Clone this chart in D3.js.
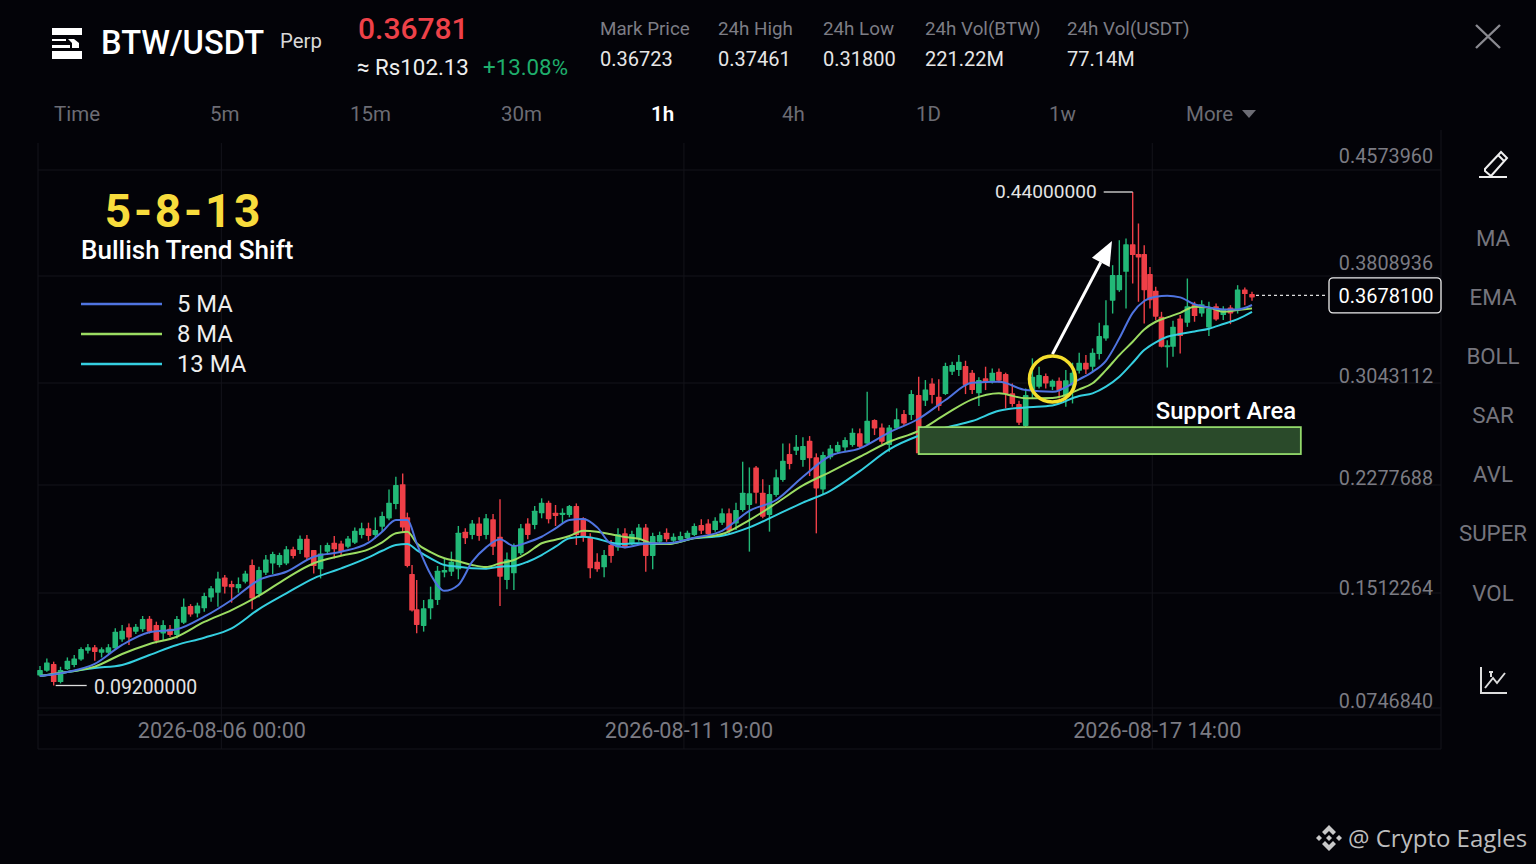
<!DOCTYPE html>
<html>
<head>
<meta charset="utf-8">
<title>BTW/USDT</title>
<script src="https://cdn.jsdelivr.net/npm/d3@7"></script>
<style>
  html, body { margin: 0; padding: 0; background: #030308; overflow: hidden; }
  svg { display: block; }
  text { font-family: Roboto, "Noto Sans", sans-serif; }
</style>
</head>
<body>
<div id="chart"></div>
<script>
var opens = [
  .0991,.1024,.1071,.0944,.1034,.1064,.1104,.1165,.1189,.1151,
  .1151,.1182,.1245,.1330,.1299,.1316,.1391,.1346,.1287,.1320,
  .1276,.1363,.1480,.1428,.1464,.1541,.1574,.1682,.1635,.1605,
  .1652,.1769,.1565,.1715,.1781,.1769,.1781,.1880,.1875,.1955,
  .1875,.1739,.1863,.1927,.1922,.1898,.1927,.1981,.2028,.1981,
  .2039,.2098,.2199,.2340,.2106,.1706,.1457,.1340,.1464,.1523,
  .1716,.1723,.1739,.2005,.1981,.2063,.1981,.2092,.1969,.1664,
  .1711,.1852,.2063,.2052,.2134,.2209,.2139,.2122,.2122,.2186,
  .2099,.1969,.1793,.1753,.1911,.1894,.1993,.1918,.1951,.2035,
  .1833,.1934,.1998,.1941,.1946,.1958,.1981,.2052,.2063,.2016,
  .2068,.2134,.2063,.2157,.2193,.2458,.2280,.2122,.2263,.2369,
  .2552,.2576,.2510,.2646,.2529,.2303,.2529,.2569,.2599,.2616,
  .2698,.2627,.2792,.2740,.2616,.2733,.2834,.2827,.2968,.2928,
  .3050,.2956,.2975,.3133,.3144,.3173,.3126,.2980,.3086,.3062,
  .3133,.3116,.2980,.2905,.2750,.3003,.3026,.3102,.3026,.3069,
  .2956,.3038,.3139,.3196,.3167,.3257,.3367,.3633,.3708,.3837,
  .4032,.3962,.3962,.3821,.3703,.3520,.3308,.3308,.3508,.3478,
  .3609,.3543,.3445,.3595,.3532,.3586,.3567,.3713,.3680];
var highs = [
  .1057,.1111,.1088,.1052,.1118,.1135,.1189,.1212,.1205,.1189,
  .1212,.1323,.1346,.1358,.1353,.1410,.1410,.1370,.1381,.1346,
  .1410,.1534,.1494,.1504,.1574,.1621,.1722,.1699,.1659,.1682,
  .1729,.1809,.1757,.1840,.1863,.1856,.1903,.1898,.1978,.1981,
  .1875,.1910,.1927,.1974,.1941,.1974,.2035,.2068,.2068,.2105,
  .2145,.2303,.2392,.2415,.2139,.1770,.1664,.1523,.1617,.1763,
  .1817,.1864,.2045,.2028,.2087,.2106,.2129,.2129,.2233,.1857,
  .1922,.2059,.2099,.2186,.2240,.2223,.2193,.2169,.2193,.2204,
  .2106,.1993,.1852,.1875,.1946,.2028,.2028,.2012,.2059,.2059,
  .1998,.2005,.2028,.1993,.2005,.2012,.2063,.2092,.2092,.2106,
  .2169,.2169,.2209,.2498,.2458,.2468,.2374,.2334,.2444,.2627,
  .2627,.2686,.2670,.2679,.2557,.2569,.2616,.2639,.2670,.2733,
  .2733,.2992,.2797,.2768,.2757,.2874,.2862,.3003,.3098,.3074,
  .3086,.3079,.3196,.3203,.3250,.3210,.3144,.3093,.3168,.3156,
  .3156,.3126,.3050,.2928,.3015,.3227,.3167,.3120,.3078,.3092,
  .3144,.3196,.3266,.3250,.3297,.3478,.3637,.3884,.4060,.4072,
  .4400,.4178,.4025,.3872,.3731,.3555,.3355,.3492,.3532,.3790,
  .3626,.3637,.3626,.3614,.3595,.3602,.3743,.3727,.3696];
var lows = [
  .0982,.1017,.0920,.0935,.1029,.1048,.1095,.1146,.1095,.1118,
  .1142,.1175,.1229,.1205,.1283,.1299,.1287,.1217,.1240,.1264,
  .1252,.1353,.1405,.1400,.1440,.1511,.1475,.1569,.1504,.1574,
  .1640,.1457,.1541,.1699,.1706,.1753,.1769,.1816,.1847,.1804,
  .1710,.1675,.1840,.1816,.1840,.1887,.1917,.1957,.1941,.1957,
  .2004,.2086,.2162,.2004,.1753,.1441,.1288,.1300,.1387,.1488,
  .1683,.1692,.1669,.1918,.1951,.1941,.1951,.1840,.1481,.1598,
  .1593,.1840,.1951,.2021,.2099,.2063,.2045,.2063,.2106,.1911,
  .1934,.1676,.1723,.1683,.1786,.1871,.1887,.1911,.1934,.1723,
  .1739,.1922,.1934,.1922,.1934,.1951,.1974,.1988,.1965,.2005,
  .2052,.1981,.2016,.2146,.1864,.2204,.2099,.2005,.2251,.2357,
  .2444,.2545,.2463,.2397,.1993,.2270,.2515,.2552,.2569,.2604,
  .2592,.2623,.2686,.2623,.2569,.2726,.2750,.2792,.2557,.2891,
  .2909,.2858,.2968,.3109,.3102,.2975,.2975,.2891,.3003,.3050,
  .3055,.2874,.2886,.2757,.2717,.2945,.3015,.3015,.3003,.2944,
  .2885,.2909,.3120,.3116,.3132,.3219,.3351,.3543,.3696,.3579,
  .3755,.3626,.3473,.3579,.3496,.3304,.3163,.3238,.3261,.3449,
  .3485,.3520,.3384,.3492,.3497,.3468,.3543,.3602,.3633];
var closes = [
  .1029,.1083,.0944,.1029,.1095,.1111,.1177,.1189,.1156,.1175,
  .1189,.1299,.1306,.1259,.1334,.1389,.1299,.1236,.1346,.1276,
  .1389,.1475,.1421,.1485,.1551,.1605,.1675,.1616,.1612,.1635,
  .1710,.1534,.1734,.1809,.1847,.1840,.1880,.1833,.1955,.1823,
  .1762,.1851,.1910,.1880,.1863,.1957,.2011,.2028,.1974,.2016,
  .2115,.2209,.2333,.2035,.1763,.1448,.1347,.1464,.1528,.1730,
  .1734,.1793,.1998,.1958,.2063,.1974,.2099,.1899,.1687,.1810,
  .1904,.2028,.1981,.2153,.2209,.2092,.2115,.2139,.2186,.1981,
  .1969,.1746,.1739,.1840,.1833,.1988,.1894,.1988,.2035,.1833,
  .1974,.1981,.1951,.1969,.1974,.1998,.2045,.2012,.1988,.2082,
  .2134,.2012,.2157,.2280,.2275,.2280,.2110,.2270,.2388,.2505,
  .2482,.2604,.2609,.2522,.2310,.2545,.2592,.2616,.2651,.2703,
  .2604,.2787,.2733,.2639,.2740,.2797,.2768,.2975,.2557,.3008,
  .2968,.2891,.3173,.3180,.3203,.3039,.3003,.3074,.3055,.3126,
  .3069,.2975,.2905,.2773,.2968,.3097,.3109,.3050,.3069,.3003,
  .3073,.3125,.3196,.3149,.3266,.3384,.3461,.3814,.3814,.4032,
  .3955,.3938,.3708,.3637,.3520,.3308,.3320,.3449,.3384,.3595,
  .3525,.3609,.3579,.3501,.3572,.3543,.3713,.3680,.3656];

// bars the moving averages were read at
var maBars = [0,4,8,12,16,20,24,28,32,36,40,44,48,50,52,54,56,58,60,62,64,66,68,70,72,74,76,78,80,82,84,86,88,90,92,96,100,104,108,112,116,120,124,128,132,136,140,144,148,152,154,156,158,160,162,164,166,168,170,172,174,176,178];
var ma5 = [.0987,.1015,.1072,.1206,.1295,.1316,.1405,.1523,.1664,.1722,.1828,.1863,.1927,.2004,.2087,.2087,.1923,.1704,.1588,.1629,.1793,.1894,.1951,.1904,.1930,.1969,.2028,.2087,.2094,.2035,.1918,.1894,.1913,.1923,.1923,.1962,.2011,.2152,.2228,.2392,.2540,.2592,.2705,.2801,.2933,.3055,.3062,.3003,.2991,.3079,.3132,.3210,.3368,.3548,.3631,.3661,.3668,.3657,.3608,.3586,.3572,.3572,.3603];
var ma8 = [.0987,.1015,.1053,.1142,.1213,.1264,.1368,.1452,.1553,.1676,.1782,.1835,.1880,.1930,.1993,.2004,.1923,.1861,.1817,.1796,.1770,.1755,.1782,.1805,.1856,.1923,.1948,.1974,.2011,.2004,.1986,.1967,.1955,.1923,.1918,.1960,.1988,.2087,.2205,.2331,.2427,.2533,.2639,.2716,.2832,.2938,.2980,.2945,.2947,.3008,.3051,.3144,.3250,.3344,.3431,.3485,.3516,.3548,.3591,.3586,.3555,.3567,.3579];
var ma13 = [.0987,.1015,.1043,.1065,.1135,.1206,.1257,.1323,.1459,.1570,.1676,.1746,.1824,.1870,.1911,.1918,.1875,.1817,.1770,.1758,.1746,.1744,.1758,.1763,.1793,.1840,.1899,.1958,.1969,.1955,.1927,.1918,.1923,.1918,.1918,.1958,.1976,.2035,.2122,.2209,.2293,.2432,.2585,.2681,.2738,.2785,.2857,.2881,.2895,.2961,.2980,.3027,.3097,.3196,.3285,.3340,.3379,.3398,.3417,.3436,.3469,.3504,.3555];

var priceTicks = [0.4573960, 0.3808936, 0.3043112, 0.2277688, 0.1512264, 0.0746840];
var dateBars = [26.5, 94.5, 163.4];
var dateLabels = ["2026-08-06 00:00", "2026-08-11 19:00", "2026-08-17 14:00"];
var lastPrice = 0.36781;
var highPrice = 0.44;
var lowPrice = 0.092;
var supportTop = 0.2742;
var supportBottom = 0.2552;
var supportBars = [128, 184.8];
var arrowFrom = [148, 0.3257];
var arrowTo = [156.9, 0.4054];
var circleAt = [148, 0.3081];

var tabs = ["Time", "5m", "15m", "30m", "1h", "4h", "1D", "1w", "More"];
var tools = ["MA", "EMA", "BOLL", "SAR", "AVL", "SUPER", "VOL"];
var statNames = ["Mark Price", "24h High", "24h Low", "24h Vol(BTW)", "24h Vol(USDT)"];
var statValues = ["0.36723", "0.37461", "0.31800", "221.22M", "77.14M"];
var maNames = ["5 MA", "8 MA", "13 MA"];
var maColors = ["#4f74e0", "#9bdc62", "#35cfe0"];

var w = 1536, h = 864;
var up = "#22b877", down = "#ee3f47";

var svg = d3.select("#chart").append("svg")
  .attr("width", w)
  .attr("height", h);

svg.append("rect").attr("width", w).attr("height", h).attr("fill", "#030308");

// the picture does not space its bars evenly, so the scale is pinned at a few bars
var x = d3.scaleLinear()
  .domain([0, 53, 56, 102, 115, 128, 160, 167, 178])
  .range([40, 402.7, 416.7, 736, 823, 918.7, 1132.7, 1173, 1252]);

var y = d3.scaleLinear()
  .domain([lowPrice, highPrice])
  .range([685.5, 192]);

// grid and price labels are not quite on the price scale in the original
var yGrid = d3.scaleLinear().domain(priceTicks).range([170, 276, 383, 485, 593, 708]);
var yLabel = d3.scaleLinear().domain(priceTicks).range([156, 263, 376, 478, 588, 701]);

// frame and grid
var grid = svg.append("g").attr("stroke", "#14141a").attr("stroke-width", 1);

grid.selectAll(".h").data(priceTicks).enter().append("line")
  .attr("x1", 38).attr("x2", 1441)
  .attr("y1", function(d) { return yGrid(d); })
  .attr("y2", function(d) { return yGrid(d); });

grid.selectAll(".v").data(dateBars).enter().append("line")
  .attr("y1", 143).attr("y2", 749)
  .attr("x1", function(d) { return x(d); })
  .attr("x2", function(d) { return x(d); });

grid.append("line").attr("x1", 38).attr("x2", 1441).attr("y1", 715).attr("y2", 715);
grid.append("line").attr("x1", 38).attr("x2", 1441).attr("y1", 749).attr("y2", 749);
grid.append("line").attr("x1", 38).attr("x2", 38).attr("y1", 143).attr("y2", 749);
grid.append("line").attr("x1", 1441).attr("x2", 1441).attr("y1", 130).attr("y2", 749);

// price axis
var yAxis = d3.axisLeft(yLabel)
  .tickValues(priceTicks)
  .tickSize(0)
  .tickPadding(0)
  .tickFormat(d3.format(".7f"));

var yG = svg.append("g")
  .attr("transform", "translate(1433,0)")
  .call(yAxis);
yG.select(".domain").remove();
yG.selectAll("text")
  .attr("fill", "#7b7b83")
  .style("font-size", "19.8px");

// date axis
var xAxis = d3.axisBottom(x)
  .tickValues(dateBars)
  .tickSize(0)
  .tickPadding(0)
  .tickFormat(function(d, i) { return dateLabels[i]; });

var xG = svg.append("g")
  .attr("transform", "translate(0,723)")
  .call(xAxis);
xG.select(".domain").remove();
xG.selectAll("text")
  .attr("dx", function(d, i) { return i == 0 ? 0 : 4.5; })
  .attr("fill", "#7b7b83")
  .style("font-size", "21.6px");

// candles
var candles = d3.range(opens.length);

svg.append("g").selectAll("line")
  .data(candles)
  .enter()
  .append("line")
  .attr("x1", function(i) { return x(i); })
  .attr("x2", function(i) { return x(i); })
  .attr("y1", function(i) { return y(highs[i]); })
  .attr("y2", function(i) { return y(lows[i]); })
  .attr("stroke", function(i) { return closes[i] >= opens[i] ? up : down; })
  .attr("stroke-width", 1.4);

svg.append("g").selectAll("rect")
  .data(candles)
  .enter()
  .append("rect")
  .attr("x", function(i) { return x(i) - 2.8; })
  .attr("width", 5.6)
  .attr("y", function(i) { return y(Math.max(opens[i], closes[i])); })
  .attr("height", function(i) { return Math.max(2, Math.abs(y(opens[i]) - y(closes[i]))); })
  .attr("rx", 0.7)
  .attr("fill", function(i) { return closes[i] >= opens[i] ? up : down; });

// moving averages
var maLine = d3.line()
  .x(function(d, i) { return x(maBars[i]); })
  .y(function(d) { return y(d); })
  .curve(d3.curveMonotoneX);

[ma13, ma8, ma5].forEach(function(series, k) {
  svg.append("path")
    .attr("d", maLine(series))
    .attr("fill", "none")
    .attr("stroke", maColors[2 - k])
    .attr("stroke-width", 2);
});

// support area
svg.append("rect")
  .attr("x", x(supportBars[0]))
  .attr("width", x(supportBars[1]) - x(supportBars[0]))
  .attr("y", y(supportTop))
  .attr("height", y(supportBottom) - y(supportTop))
  .attr("fill", "#2a4a2a")
  .attr("stroke", "#93d96b")
  .attr("stroke-width", 1.8);

svg.append("text")
  .attr("x", 1296).attr("y", 419)
  .attr("text-anchor", "end")
  .attr("fill", "#fff")
  .attr("font-weight", 500)
  .style("font-size", "23.8px")
  .text("Support Area");

// arrow and circle
var ax = x(arrowFrom[0]), ay = y(arrowFrom[1]);
var bx = x(arrowTo[0]), by = y(arrowTo[1]);
var ang = Math.atan2(by - ay, bx - ax);
var headLen = 24, headW = 10;

svg.append("line")
  .attr("x1", ax).attr("y1", ay)
  .attr("x2", bx - Math.cos(ang) * headLen)
  .attr("y2", by - Math.sin(ang) * headLen)
  .attr("stroke", "#fff")
  .attr("stroke-width", 3);

svg.append("path")
  .attr("fill", "#fff")
  .attr("d", "M" + bx + "," + by +
    "L" + (bx - Math.cos(ang) * headLen - Math.sin(ang) * headW) + "," + (by - Math.sin(ang) * headLen + Math.cos(ang) * headW) +
    "L" + (bx - Math.cos(ang) * headLen + Math.sin(ang) * headW) + "," + (by - Math.sin(ang) * headLen - Math.cos(ang) * headW) + "Z");

svg.append("circle")
  .attr("cx", x(circleAt[0]))
  .attr("cy", y(circleAt[1]))
  .attr("r", 23)
  .attr("fill", "none")
  .attr("stroke", "#f4de2c")
  .attr("stroke-width", 3.5);

// high / low labels
svg.append("line")
  .attr("x1", x(160) - 29).attr("x2", x(160))
  .attr("y1", y(highPrice)).attr("y2", y(highPrice))
  .attr("stroke", "#ddd").attr("stroke-width", 1.3);
svg.append("text")
  .attr("x", x(160) - 36).attr("y", y(highPrice) + 6)
  .attr("text-anchor", "end")
  .attr("fill", "#e4e4e4")
  .style("font-size", "19.1px")
  .text(d3.format(".8f")(highPrice));

svg.append("line")
  .attr("x1", x(2) + 2).attr("x2", x(2) + 33)
  .attr("y1", y(lowPrice)).attr("y2", y(lowPrice))
  .attr("stroke", "#ddd").attr("stroke-width", 1.3);
svg.append("text")
  .attr("x", 94).attr("y", y(lowPrice) + 8)
  .attr("fill", "#e4e4e4")
  .style("font-size", "19.4px")
  .text(d3.format(".8f")(lowPrice));

// last price
svg.append("line")
  .attr("x1", 1256).attr("x2", 1327)
  .attr("y1", y(lastPrice) + 1).attr("y2", y(lastPrice) + 1)
  .attr("stroke", "#ddd")
  .attr("stroke-width", 1.3)
  .attr("stroke-dasharray", "3,3");
svg.append("rect")
  .attr("x", 1329).attr("y", y(lastPrice) - 16.5)
  .attr("width", 112).attr("height", 35)
  .attr("rx", 4)
  .attr("fill", "#030308")
  .attr("stroke", "#eee")
  .attr("stroke-width", 1.3);
svg.append("text")
  .attr("x", 1386).attr("y", y(lastPrice) + 8.5)
  .attr("text-anchor", "middle")
  .attr("fill", "#fff")
  .style("font-size", "20px")
  .text(d3.format(".7f")(0.36781));

// title and legend
svg.append("text")
  .attr("x", 184).attr("y", 227)
  .attr("text-anchor", "middle")
  .attr("fill", "#f8dc3c")
  .attr("font-weight", 700)
  .style("font-size", "46px")
  .style("letter-spacing", "2.8px")
  .text("5-8-13");
svg.append("text")
  .attr("x", 81).attr("y", 259)
  .attr("fill", "#fff")
  .attr("font-weight", 500)
  .style("font-size", "26px")
  .text("Bullish Trend Shift");

var legend = svg.append("g").selectAll("g")
  .data(maNames)
  .enter()
  .append("g")
  .attr("transform", function(d, i) { return "translate(81," + (304 + i * 30) + ")"; });
legend.append("line")
  .attr("x1", 0).attr("x2", 81)
  .attr("stroke", function(d, i) { return maColors[i]; })
  .attr("stroke-width", 2.5);
legend.append("text")
  .attr("x", 96).attr("y", 8)
  .attr("fill", "#eee")
  .style("font-size", "23.8px")
  .text(function(d) { return d; });

// header
var logo = svg.append("g").attr("fill", "#fff");
logo.append("rect").attr("x", 52).attr("y", 28).attr("width", 30).attr("height", 7);
logo.append("rect").attr("x", 52).attr("y", 51).attr("width", 30).attr("height", 8);
logo.append("path").attr("d", "M52,39H66V41H52ZM52,45H70V48H52ZM68,39L74,39L79,43V48H72V43Z");

svg.append("text").attr("x", 101).attr("y", 54)
  .attr("fill", "#fff").attr("font-weight", 500)
  .style("font-size", "32.6px").text("BTW/USDT");
svg.append("text").attr("x", 280).attr("y", 48)
  .attr("fill", "#d8d8d8")
  .style("font-size", "20.4px").text("Perp");
svg.append("text").attr("x", 358).attr("y", 39)
  .attr("fill", "#ee4148").attr("font-weight", 500)
  .style("font-size", "30px").text("0.36781");
svg.append("text").attr("x", 357).attr("y", 75)
  .attr("fill", "#eee")
  .style("font-size", "22.3px").text("≈ Rs102.13");
svg.append("text").attr("x", 483).attr("y", 75)
  .attr("fill", "#1fae6c")
  .style("font-size", "22.3px").text("+13.08%");

var statX = [600, 718, 823, 925, 1067];
svg.append("g").selectAll("text")
  .data(statNames)
  .enter()
  .append("text")
  .attr("x", function(d, i) { return statX[i]; })
  .attr("y", 35)
  .attr("fill", "#7d7d85")
  .style("font-size", "18.8px")
  .text(function(d) { return d; });
svg.append("g").selectAll("text")
  .data(statValues)
  .enter()
  .append("text")
  .attr("x", function(d, i) { return statX[i]; })
  .attr("y", 66)
  .attr("fill", "#e6e6e6")
  .style("font-size", "20px")
  .text(function(d) { return d; });

svg.append("path")
  .attr("d", "M1476,25L1500,48M1500,25L1476,48")
  .attr("stroke", "#8a8a90")
  .attr("stroke-width", 2.4)
  .attr("fill", "none");

// interval tabs
var tabX = [54, 210, 350, 501, 651, 782, 916, 1049, 1186];
svg.append("g").selectAll("text")
  .data(tabs)
  .enter()
  .append("text")
  .attr("x", function(d, i) { return tabX[i]; })
  .attr("y", 121)
  .attr("fill", function(d) { return d == "1h" ? "#fff" : "#6c6c74"; })
  .attr("font-weight", function(d) { return d == "1h" ? 600 : 400; })
  .style("font-size", "20.5px")
  .text(function(d) { return d; });
svg.append("path").attr("d", "M1242,110H1256L1249,118Z").attr("fill", "#6c6c74");

// right rail
var toolY = d3.scalePoint().domain(tools).range([238, 593]);
svg.append("g").selectAll("text")
  .data(tools)
  .enter()
  .append("text")
  .attr("x", 1493)
  .attr("y", function(d) { return toolY(d) + 7.5; })
  .attr("text-anchor", "middle")
  .attr("fill", "#75757d")
  .style("font-size", "22.3px")
  .text(function(d) { return d; });

svg.append("path")
  .attr("d", "M1479,177H1507M1485,171L1491,176L1507,158L1501,152L1485,169ZM1498,155L1504,161")
  .attr("fill", "none").attr("stroke", "#eee").attr("stroke-width", 2);
svg.append("path")
  .attr("d", "M1481,667V693H1507M1485,688L1493,678L1497,683L1505,673M1489,672H1493M1491,672V677")
  .attr("fill", "none").attr("stroke", "#ddd").attr("stroke-width", 2);

// watermark
var mark = svg.append("g").attr("fill", "#c9c9c9").attr("transform", "translate(1329,838)");
mark.append("path").attr("d", "M0,-13L7,-6L4,-3L0,-7L-4,-3L-7,-6Z");
mark.append("path").attr("d", "M0,13L7,6L4,3L0,7L-4,3L-7,6Z");
mark.append("path").attr("d", "M-13,0L-10,-3L-7,0L-10,3Z");
mark.append("path").attr("d", "M13,0L10,-3L7,0L10,3Z");
mark.append("path").attr("d", "M0,-3L3,0L0,3L-3,0Z");
svg.append("text")
  .attr("x", 1348).attr("y", 847)
  .attr("fill", "#bdbdbd")
  .style("font-family", "'Open Sans'")
  .style("font-size", "24px")
  .text("@ Crypto Eagles");
</script>
</body>
</html>
